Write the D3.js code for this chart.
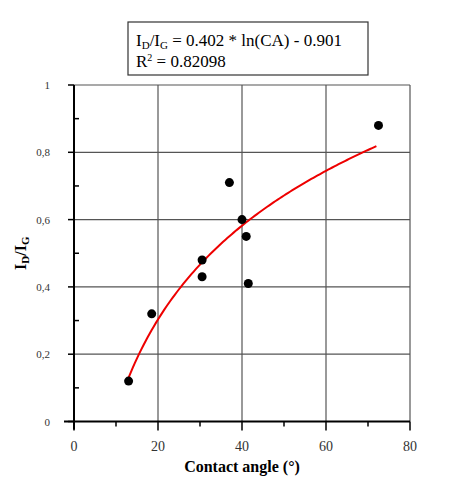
<!DOCTYPE html><html><head><script src="https://cdn.jsdelivr.net/npm/d3@7"></script>
<style>body{margin:0;background:#fff}</style></head><body><script>
const xs=[13,18.5,30.5,30.5,37,40,41,41.5,72.5];
const ys=[0.12,0.32,0.48,0.43,0.71,0.60,0.55,0.41,0.88];
const xTicks=[0,20,40,60,80];
const yTicks=[0,0.2,0.4,0.6,0.8,1];
const fitA=0.402,fitB=-0.901;
const svg=d3.select("body").append("svg").attr("width",473).attr("height",487).attr("font-family","'Liberation Serif','Times New Roman','DejaVu Serif',serif");
const x=d3.scaleLinear().domain([0,80]).range([74,410]);
const y=d3.scaleLinear().domain([0,1]).range([421.5,85]);
const g=svg.append("g");
xTicks.forEach(t=>{if(t>0)g.append("line").attr("x1",x(t)).attr("x2",x(t)).attr("y1",y(0)).attr("y2",y(1)).attr("stroke","#555").attr("stroke-width",1.2);});
yTicks.forEach(t=>{if(t>0)g.append("line").attr("x1",x(0)).attr("x2",x(80)).attr("y1",y(t)).attr("y2",y(t)).attr("stroke","#555").attr("stroke-width",1.2);});
g.append("line").attr("x1",x(0)).attr("x2",x(0)).attr("y1",y(0)+8).attr("y2",y(1)).attr("stroke","#000").attr("stroke-width",2);
g.append("line").attr("x1",x(0)-10).attr("x2",x(80)).attr("y1",y(0)).attr("y2",y(0)).attr("stroke","#000").attr("stroke-width",2);
d3.range(0,81,10).forEach(t=>g.append("line").attr("x1",x(t)).attr("x2",x(t)).attr("y1",y(0)).attr("y2",y(0)+(t%20?5:9)).attr("stroke","#000").attr("stroke-width",1.5));
d3.range(0,1.01,0.1).forEach(t=>{const odd=Math.round(t*10)%2;g.append("line").attr("x1",x(0)).attr("x2",odd?x(0)+5:x(0)-6).attr("y1",y(t)).attr("y2",y(t)).attr("stroke","#000").attr("stroke-width",1.5);});
xTicks.forEach(t=>g.append("text").attr("x",x(t)).attr("y",y(0)+29).attr("text-anchor","middle").attr("font-size",14).attr("fill","#333").text(t));
yTicks.forEach(t=>g.append("text").attr("x",x(0)-24).attr("y",y(t)+4).attr("text-anchor","end").attr("font-size",11).attr("fill","#333").text(String(t).replace(".",",")));
const cx=d3.range(13,72.01,0.5);
g.append("path").attr("d",d3.line().x(d=>x(d)).y(d=>y(fitA*Math.log(d)+fitB))(cx)).attr("fill","none").attr("stroke","#e00").attr("stroke-width",2);
xs.forEach((v,i)=>g.append("circle").attr("cx",x(v)).attr("cy",y(ys[i])).attr("r",4.5).attr("fill","#000"));
g.append("text").attr("x",x(40)).attr("y",472).attr("text-anchor","middle").attr("font-size",16).attr("font-weight","bold").text("Contact angle (°)");
g.append("text").attr("transform",`translate(26,${y(0.5)}) rotate(-90)`).attr("text-anchor","middle").attr("font-size",16).attr("font-weight","bold").html('I<tspan font-size="11" dy="3">D</tspan><tspan dy="-3">/I</tspan><tspan font-size="11" dy="3">G</tspan>');
g.append("rect").attr("x",128).attr("y",22).attr("width",240).attr("height",53).attr("fill","#fff").attr("stroke","#333").attr("stroke-width",1.2);
g.append("text").attr("x",136).attr("y",46).attr("font-size",17).html('I<tspan font-size="11" dy="3">D</tspan><tspan dy="-3">/I</tspan><tspan font-size="11" dy="3">G</tspan><tspan dy="-3"> = 0.402 * ln(CA) - 0.901</tspan>');
g.append("text").attr("x",136).attr("y",67).attr("font-size",17).html('R<tspan font-size="10" dy="-6">2</tspan><tspan dy="6"> = 0.82098</tspan>');
</script></body></html>
